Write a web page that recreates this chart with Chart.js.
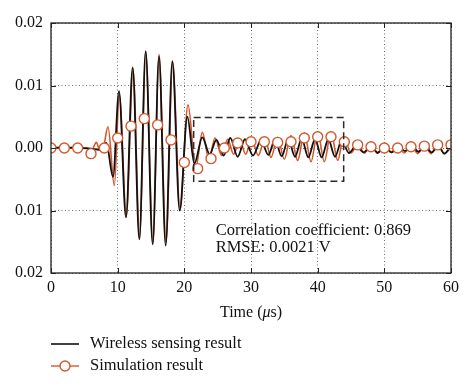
<!DOCTYPE html>
<html>
<head>
<meta charset="utf-8">
<script src="https://cdn.jsdelivr.net/npm/chart.js@4.4.0/dist/chart.umd.min.js"></script>
<style>
  html, body { margin: 0; padding: 0; background: #fff; }
  canvas { display: block; }
</style>
</head>
<body>
<canvas id="c" width="474" height="388"></canvas>
<script>
// ---- Data ----
// Wireless sensing result (black): times (µs) of extrema / read points and values
const wsTime = [0, 2, 4, 6, 7.3, 8.3, 9.3, 10.2, 11.25, 12.25, 13.25, 14.2, 15.25, 16.2, 17.2, 18.2, 19.3, 20.45, 21.5, 22.7, 23.8, 24.8, 25.9, 26.9, 28.0, 29.1, 30.3, 31.5, 32.6, 33.6, 34.6, 35.6, 36.6, 37.6, 38.6, 39.6, 40.6, 41.6, 42.6, 43.6, 44.7, 45.8, 46.9, 48.0, 49.0, 50.0, 51.1, 52.1, 53.1, 54.1, 55.1, 56.1, 57.1, 58.1, 59.0, 60];
const wsValue = [0, 0.0001, 0, -0.0001, -0.0003, 0.0008, -0.0046, 0.0091, -0.0111, 0.0129, -0.0146, 0.0155, -0.0154, 0.0147, -0.0156, 0.0139, -0.0100, 0.0050, -0.0025, 0.0017, -0.0010, 0.0013, -0.0012, 0.0016, -0.0014, 0.0014, -0.0012, 0.0012, -0.0011, 0.0013, -0.0013, 0.0014, -0.0014, 0.0015, -0.0015, 0.0014, -0.0015, 0.0014, -0.0014, 0.0012, -0.0008, 0.0004, -0.0007, 0.0004, -0.0008, 0.0003, -0.0007, 0.0003, -0.0005, 0.0004, -0.0006, 0.0004, -0.0007, 0.0003, -0.0009, 0.0002];

// Simulation result (orange line)
const simTime = [0, 2, 4, 5.5, 6.0, 6.8, 7.3, 7.8, 8.55, 9.5, 10.25, 11.3, 12.3, 13.3, 14.2, 15.3, 16.2, 17.25, 18.25, 19.35, 20.55, 21.7, 22.7, 23.7, 24.6, 25.6, 26.5, 27.4, 28.3, 29.2, 30.1, 31.1, 32.1, 33.0, 34.0, 35.0, 36.0, 37.0, 38.0, 39.0, 40.0, 41.0, 42.0, 43.0, 43.9, 45.0, 46.0, 47.0, 48.0, 49.0, 50.0, 51.0, 52.0, 53.0, 54.0, 55.0, 56.0, 57.0, 58.0, 59.0, 60];
const simValue = [0, 0, 0, 0, -0.0006, 0.0009, -0.0003, -0.0001, 0.0034, -0.0060, 0.0085, -0.0108, 0.0126, -0.0145, 0.0153, -0.0153, 0.0150, -0.0150, 0.0137, -0.0098, 0.0069, -0.0032, 0.0025, -0.0018, 0.0016, -0.0012, 0.0014, -0.0010, 0.0013, -0.0010, 0.0014, -0.0012, 0.0015, -0.0015, 0.0017, -0.0018, 0.0020, -0.0020, 0.0024, -0.0022, 0.0026, -0.0022, 0.0026, -0.0020, 0.0018, -0.0008, 0.0006, -0.0008, 0.0004, -0.0007, 0.0003, -0.0007, 0.0003, -0.0008, 0.0005, -0.0009, 0.0006, -0.0009, 0.0007, -0.0009, 0.0006];

// Simulation result circle markers (every 2 µs)
const markerTime = [0, 2, 4, 6, 8, 10, 12, 14, 16, 18, 20, 22, 24, 26, 28, 30, 32, 34, 36, 38, 40, 42, 44, 46, 48, 50, 52, 54, 56, 58, 60];
const markerValue = [0, 0, 0, -0.0009, 0.0000, 0.0016, 0.0035, 0.0047, 0.0037, 0.0013, -0.0023, -0.0033, -0.0017, 0.0000, 0.0008, 0.0010, 0.0010, 0.0009, 0.0010, 0.0016, 0.0018, 0.0018, 0.0010, 0.0005, 0.0002, 0.0000, 0.0000, 0.0002, 0.0003, 0.0005, 0.0005];

// Axis ticks and labels (as printed in the reference)
const xTicks = [0, 10, 20, 30, 40, 50, 60];
const yTickValues = [0.02, 0.01, 0, -0.01, -0.02];
const yTickLabels = ['0.02', '0.01', '0.00', '0.01', '0.02'];

// Texts
const seriesNames = ['Wireless sensing result', 'Simulation result'];
const annotLines = ['Correlation coefficient: 0.869', 'RMSE: 0.0021 V'];
// Dashed highlight box: [t start, t end, v low, v high]
const boxRegion = [21.4, 43.9, -0.0053, 0.0049];

// ---- Styles ----
const BLACK = '#111111';
const ORANGE = '#d4582e';
const FONT = "'Liberation Serif', 'Times New Roman', serif";

const zip = (xs, ys) => xs.map((x, i) => ({ x: x, y: ys[i] }));

const overlay = {
  id: 'overlay',
  afterDraw(chart) {
    const { ctx, chartArea: a, scales: { x, y } } = chart;
    ctx.save();
    // frame
    ctx.strokeStyle = '#222';
    ctx.lineWidth = 1.3;
    ctx.setLineDash([]);
    ctx.strokeRect(a.left, a.top, a.right - a.left, a.bottom - a.top);
    // inward ticks
    ctx.lineWidth = 1;
    ctx.beginPath();
    xTicks.forEach(v => {
      const px = Math.round(x.getPixelForValue(v)) + 0.5;
      ctx.moveTo(px, a.bottom); ctx.lineTo(px, a.bottom - 5);
      ctx.moveTo(px, a.top); ctx.lineTo(px, a.top + 5);
    });
    yTickValues.forEach(v => {
      const py = Math.round(y.getPixelForValue(v)) + 0.5;
      ctx.moveTo(a.left, py); ctx.lineTo(a.left + 5, py);
      ctx.moveTo(a.right, py); ctx.lineTo(a.right - 5, py);
    });
    ctx.stroke();

    // dashed box
    const bx0 = x.getPixelForValue(boxRegion[0]);
    const bx1 = x.getPixelForValue(boxRegion[1]);
    const by0 = y.getPixelForValue(boxRegion[3]);
    const by1 = y.getPixelForValue(boxRegion[2]);
    ctx.strokeStyle = '#2a2a2a';
    ctx.lineWidth = 1.5;
    ctx.setLineDash([7, 4]);
    ctx.strokeRect(bx0, by0, bx1 - bx0, by1 - by0);
    ctx.setLineDash([]);

    // annotation text
    ctx.fillStyle = '#111';
    ctx.font = '16.5px ' + FONT;
    ctx.textAlign = 'left';
    ctx.textBaseline = 'middle';
    const tx = x.getPixelForValue(24.7);
    ctx.fillText(annotLines[0], tx, y.getPixelForValue(-0.0132));
    ctx.fillText(annotLines[1], tx, y.getPixelForValue(-0.0159));

    // x-axis title with italic mu
    const cx = (a.left + a.right) / 2;
    const ty = a.bottom + 40;
    const fN = '16px ' + FONT, fI = 'italic 16px ' + FONT;
    const parts = [['Time (', fN], ['\u03bc', fI], ['s)', fN]];
    let total = 0;
    parts.forEach(p => { ctx.font = p[1]; total += ctx.measureText(p[0]).width; });
    let px = cx - total / 2;
    parts.forEach(p => { ctx.font = p[1]; ctx.fillText(p[0], px, ty); px += ctx.measureText(p[0]).width; });

    // legend
    const lx0 = a.left, lx1 = a.left + 28, ltx = a.left + 39;
    const ly1 = a.bottom + 71, ly2 = a.bottom + 93;
    ctx.strokeStyle = BLACK; ctx.lineWidth = 1.6;
    ctx.beginPath(); ctx.moveTo(lx0, ly1); ctx.lineTo(lx1, ly1); ctx.stroke();
    ctx.strokeStyle = ORANGE; ctx.lineWidth = 1.4;
    ctx.beginPath(); ctx.moveTo(lx0, ly2); ctx.lineTo(lx1, ly2); ctx.stroke();
    ctx.fillStyle = '#fff';
    ctx.beginPath(); ctx.arc((lx0 + lx1) / 2, ly2, 5, 0, Math.PI * 2); ctx.fill(); ctx.stroke();
    ctx.fillStyle = '#111';
    ctx.font = '16.5px ' + FONT;
    ctx.fillText(seriesNames[0], ltx, ly1);
    ctx.fillText(seriesNames[1], ltx, ly2);
    ctx.restore();
  }
};

new Chart(document.getElementById('c'), {
  type: 'line',
  data: {
    datasets: [
      {
        label: seriesNames[1] + ' markers',
        data: zip(markerTime, markerValue),
        showLine: false,
        pointRadius: 5,
        pointBorderWidth: 1.4,
        pointBackgroundColor: '#fff',
        pointBorderColor: ORANGE
      },
      {
        label: seriesNames[0],
        data: zip(wsTime, wsValue),
        borderColor: BLACK,
        borderWidth: 1.8,
        pointRadius: 0,
        cubicInterpolationMode: 'monotone',
        fill: false
      },
      {
        label: seriesNames[1],
        data: zip(simTime, simValue),
        borderColor: ORANGE,
        borderWidth: 1.6,
        pointRadius: 0,
        cubicInterpolationMode: 'monotone',
        fill: false
      }
    ]
  },
  options: {
    responsive: false,
    animation: false,
    devicePixelRatio: 1,
    layout: { padding: { top: 23, right: 23, left: 0, bottom: 85 } },
    plugins: { legend: { display: false }, tooltip: { enabled: false } },
    scales: {
      x: {
        type: 'linear', min: 0, max: 60,
        afterFit: s => { s.height = 30; },
        afterBuildTicks: s => { s.ticks = xTicks.map(v => ({ value: v })); },
        ticks: { padding: 5, color: '#111', font: { family: FONT, size: 16 }, maxRotation: 0 },
        grid: { color: '#6f6f6f', lineWidth: 1, borderDash: [1, 2.5], drawTicks: false },
        border: { display: false, dash: [1, 2.5] }
      },
      y: {
        type: 'linear', min: -0.02, max: 0.02,
        afterFit: s => { s.width = 51; },
        afterBuildTicks: s => { s.ticks = yTickValues.map(v => ({ value: v })); },
        ticks: {
          padding: 8, color: '#111', font: { family: FONT, size: 16 },
          callback: v => { const i = yTickValues.findIndex(t => Math.abs(t - v) < 1e-9); return i >= 0 ? yTickLabels[i] : ''; }
        },
        grid: { color: '#6f6f6f', lineWidth: 1, borderDash: [1, 2.5], drawTicks: false },
        border: { display: false, dash: [1, 2.5] }
      }
    }
  },
  plugins: [overlay]
});
</script>
</body>
</html>
